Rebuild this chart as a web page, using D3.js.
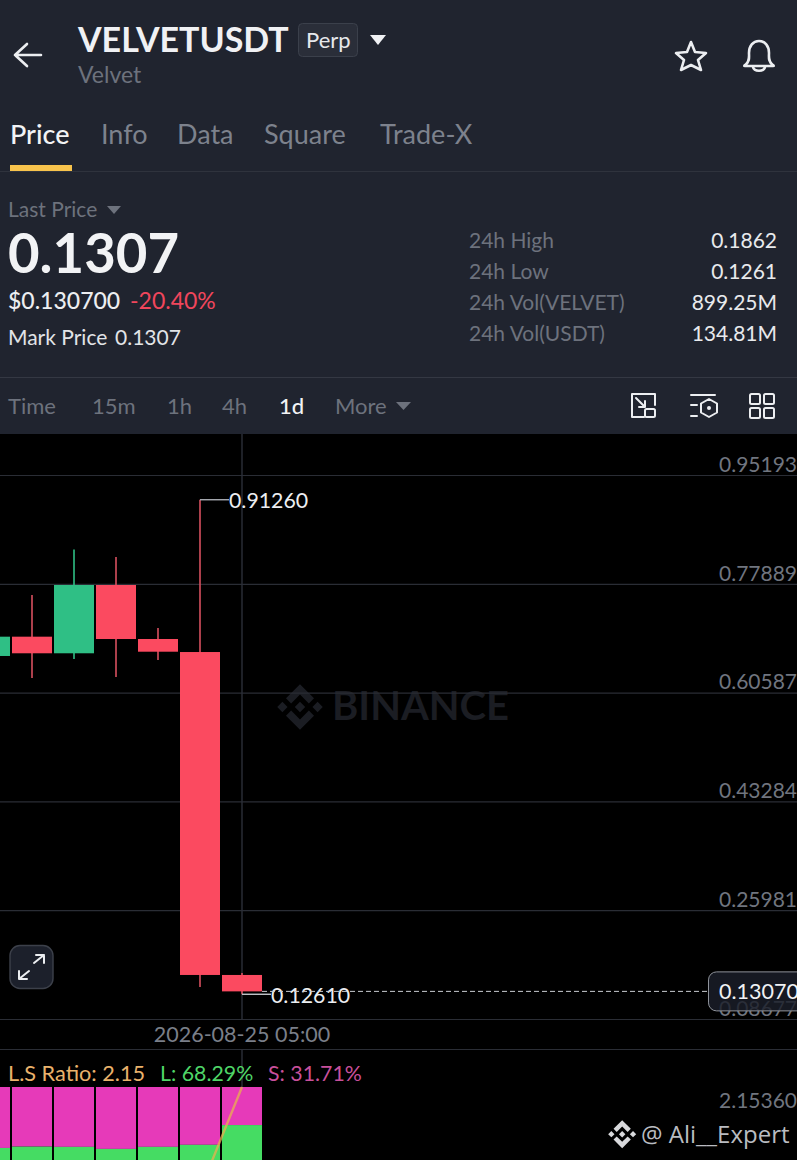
<!DOCTYPE html>
<html>
<head>
<meta charset="utf-8">
<script src="https://cdn.jsdelivr.net/npm/d3@7"></script>
<style>
  html, body { margin: 0; padding: 0; background: #000; overflow: hidden; }
  svg { display: block; font-family: Lato, sans-serif; }
</style>
</head>
<body>
<div id="chart"></div>
<script>
// values
const dates = ["08-19", "08-20", "08-21", "08-22", "08-23", "08-24", "08-25"];
const opens = [0.6641, 0.6948, 0.6684, 0.7770, 0.6911, 0.6704, 0.1568];
const closes = [0.6948, 0.6684, 0.7770, 0.6911, 0.6709, 0.1568, 0.1307];
const highs = [0.6948, 0.7611, 0.8334, 0.8215, 0.7086, 0.9126, 0.1600];
const lows = [0.6641, 0.6291, 0.6593, 0.6307, 0.6577, 0.1377, 0.1261];
const longPct = [49.2, 50.3, 50.1, 48.4, 50.1, 51.8, 68.29];
const lsRatio = [0.97, 1.01, 1.0, 0.94, 1.0, 1.07, 2.15];
const priceTicks = [0.95193, 0.77889, 0.60587, 0.43284, 0.25981, 0.08677];
const lastPrice = 0.1307;
const ratioTick = 2.1536;

const tabs = ["Price", "Info", "Data", "Square", "Trade-X"];
const tabX = [10, 101, 177, 264, 380];
const intervals = ["Time", "15m", "1h", "4h", "1d", "More"];
const intervalX = [8, 92, 167, 222, 279, 335];
const statLabels = ["24h High", "24h Low", "24h Vol(VELVET)", "24h Vol(USDT)"];
const statValues = ["0.1862", "0.1261", "899.25M", "134.81M"];
const statY = [248, 279, 310, 341];

const width = 797, height = 1160;
const panelBg = "#20242f", lineCol = "#2f333d", gridCol = "#2a2d35";
const red = "#fb4a60", green = "#2fbf85", grey = "#7b808b", dim = "#6d727d";

const svg = d3.select("#chart").append("svg").attr("width", width).attr("height", height);

function label(g, x, y, str, size, fill, opts) {
  opts = opts || {};
  return g.append("text").attr("x", x).attr("y", y).text(str)
    .attr("font-size", size).attr("fill", fill)
    .attr("font-weight", opts.weight || 400)
    .attr("text-anchor", opts.anchor || "start")
    .attr("font-family", opts.family || null);
}
function icon(g, d, sw, fill) {
  return g.append("path").attr("d", d).attr("fill", fill || "none")
    .attr("stroke", "#eceef1").attr("stroke-width", sw)
    .attr("stroke-linecap", "round").attr("stroke-linejoin", "round");
}
const logoPath = "M38.7 53.2L63 28.9l24.3 24.3 14.1-14.1L63 .7 24.6 39.1zM.7 63l14.1-14.1L28.9 63 14.8 77.1zM38.7 72.8L63 97.1l24.3-24.3 14.1 14.1L63 125.3 24.6 86.9zM97.1 63l14.1-14.1L125.3 63l-14.1 14.1zM77.3 63L63 48.7 48.7 63 63 77.3z";

// header panel
const head = svg.append("g");
head.append("rect").attr("width", width).attr("height", 434).attr("fill", panelBg);
icon(head, "M15 55H41M27 44L15 55L27 66", 2.6);
label(head, 78, 52, "VELVETUSDT", 34, "#f0f1f4", { weight: 700 });
head.append("rect").attr("x", 298.5).attr("y", 23.5).attr("width", 59).attr("height", 33).attr("rx", 4)
  .attr("fill", "#2a2e39").attr("stroke", "#3b404b");
label(head, 306, 48, "Perp", 22, "#e6e8ec");
head.append("path").attr("d", "M370 35H386L378 45Z").attr("fill", "#f0f1f4");
label(head, 78, 83, "Velvet", 23, dim);
icon(head, "M691 42L695 52L706 53L698 60L701 70L691 65L681 70L684 60L676 53L687 52Z", 2.6);
icon(head, "M745 65C750 62 749 57 749 53C749 46 753 41 759 41C765 41 769 46 769 53C769 57 768 62 773 65C774 66 774 66 773 66H745C744 66 744 66 745 65ZM753 67C754 72 764 72 765 67", 2.6);

tabs.forEach((t, i) => label(head, tabX[i], 144, t, 27, i === 0 ? "#f2f3f5" : "#7d828d", { weight: i === 0 ? 500 : 400 }));
head.append("rect").attr("x", 10).attr("y", 165).attr("width", 62).attr("height", 6).attr("fill", "#f7c34c");
head.append("line").attr("x1", 0).attr("x2", width).attr("y1", 171.5).attr("y2", 171.5).attr("stroke", lineCol);

label(head, 8, 217, "Last Price", 21, dim);
head.append("path").attr("d", "M107 206H121L114 214Z").attr("fill", dim);
label(head, 8, 273, "0.1307", 54.5, "#f2f3f5", { weight: 700 });
label(head, 8, 309, "$0.130700", 23, "#eceef1", { weight: 500 });
label(head, 130, 309, "-20.40%", 23, "#f0465c");
label(head, 8, 345, "Mark Price", 21, "#e2e4e8");
label(head, 115, 345, "0.1307", 21, "#e2e4e8");
statLabels.forEach((t, i) => {
  label(head, 469, statY[i], t, 21, dim);
  label(head, 777, statY[i], statValues[i], 21, "#e8eaed", { anchor: "end" });
});
head.append("line").attr("x1", 0).attr("x2", width).attr("y1", 377.5).attr("y2", 377.5).attr("stroke", "#343843");

intervals.forEach((t, i) => label(head, intervalX[i], 414, t, 22, i === 4 ? "#f2f3f5" : dim, { weight: i === 4 ? 500 : 400 }));
head.append("path").attr("d", "M396 402H411L403.5 410Z").attr("fill", dim);
icon(head, "M646 394H632V417H644M655 405V394H646M636 398L645 407M639 407H645V401", 2);
head.append("rect").attr("x", 645).attr("y", 409).attr("width", 10).attr("height", 8).attr("rx", 1.5)
  .attr("fill", "none").attr("stroke", "#eceef1").attr("stroke-width", 2);
icon(head, "M691 395H715M691 405H697M691 416H697M709 399L717 403.5V412.5L709 417L701 412.5V403.5Z", 2);
head.append("circle").attr("cx", 709).attr("cy", 408).attr("r", 2).attr("fill", "#eceef1");
[[750, 394], [764, 394], [750, 408], [764, 408]].forEach(p => {
  head.append("rect").attr("x", p[0]).attr("y", p[1]).attr("width", 10).attr("height", 10).attr("rx", 1.5)
    .attr("fill", "none").attr("stroke", "#eceef1").attr("stroke-width", 2);
});

// chart scales
const x = d3.scaleBand().domain(dates).range([-31, 263]).paddingInner(2 / 42).paddingOuter(1 / 42);
const y = d3.scaleLinear().domain([priceTicks[5], priceTicks[0]]).range([1019, 475]);
const yLong = d3.scaleLinear().domain([0, 100]).range([1207, 1087]);
const yRatio = d3.scaleLinear().domain([1.075, 2.15]).range([1190, 1087]);
const cx = d => x(d) + x.bandwidth() / 2;

const chart = svg.append("g");
chart.append("rect").attr("y", 434).attr("width", width).attr("height", height - 434).attr("fill", "#000");

// watermark sits under the grid
chart.append("path").attr("d", logoPath)
  .attr("transform", "translate(277,684) scale(0.365)").attr("fill", "#1b1d23");
label(chart, 332, 720, "BINANCE", 40, "#1b1d23", { weight: 700 });

// grid
const grid = chart.append("g").attr("transform", "translate(0,0)")
  .call(d3.axisRight(y).tickValues(priceTicks).tickSize(width).tickFormat(""));
grid.select(".domain").remove();
grid.selectAll("line").attr("stroke", gridCol).attr("stroke-width", 1.2);
chart.append("line").attr("x1", 0).attr("x2", width).attr("y1", 1049.5).attr("y2", 1049.5)
  .attr("stroke", gridCol).attr("stroke-width", 1.2);

// crosshair
const lastDate = dates[dates.length - 1];
chart.append("line").attr("x1", cx(lastDate)).attr("x2", cx(lastDate)).attr("y1", 434).attr("y2", y(priceTicks[5]))
  .attr("stroke", "#2c2f38").attr("stroke-width", 1.4);
chart.append("line").attr("x1", cx(lastDate)).attr("x2", cx(lastDate)).attr("y1", 1049.5).attr("y2", yLong(100))
  .attr("stroke", "#2c2f38").attr("stroke-width", 1.4);

// candles
const candles = dates.map((d, i) => ({ d, o: opens[i], c: closes[i], h: highs[i], l: lows[i] }));
const candle = chart.append("g").selectAll("g").data(candles).join("g");
candle.append("line")
  .attr("x1", d => cx(d.d)).attr("x2", d => cx(d.d))
  .attr("y1", d => y(d.h)).attr("y2", d => y(d.l))
  .attr("stroke", d => d.c >= d.o ? green : "#d8505f").attr("stroke-width", 1.6);
candle.append("rect")
  .attr("x", d => x(d.d)).attr("width", x.bandwidth())
  .attr("y", d => y(Math.max(d.o, d.c)))
  .attr("height", d => y(Math.min(d.o, d.c)) - y(Math.max(d.o, d.c)))
  .attr("fill", d => d.c >= d.o ? green : red);

// high and low callouts
const hi = candles[5], lo = candles[6];
chart.append("line").attr("x1", cx(hi.d)).attr("x2", cx(hi.d) + 29).attr("y1", y(hi.h)).attr("y2", y(hi.h))
  .attr("stroke", "#a9acb3").attr("stroke-width", 1.4);
label(chart, cx(hi.d) + 29, y(hi.h) + 8, d3.format(".5f")(hi.h), 21.3, "#eceef1");
chart.append("line").attr("x1", cx(lo.d)).attr("x2", cx(lo.d) + 29).attr("y1", y(lo.l)).attr("y2", y(lo.l))
  .attr("stroke", "#c5c7cc").attr("stroke-width", 1.4);
label(chart, cx(lo.d) + 29, y(lo.l) + 9, d3.format(".5f")(lo.l), 21.3, "#eceef1");

// last price line and tag
chart.append("line").attr("x1", x(lastDate) + x.bandwidth()).attr("x2", 708).attr("y1", y(lastPrice)).attr("y2", y(lastPrice))
  .attr("stroke", "#c9ccd1").attr("stroke-width", 1).attr("stroke-dasharray", "5 3");

// price axis labels
const axis = chart.append("g")
  .call(d3.axisRight(y).tickValues(priceTicks).tickSize(0).tickFormat(d3.format(".5f")));
axis.select(".domain").remove();
axis.selectAll("text").attr("x", 719).attr("dy", "-0.18em").attr("text-anchor", "start")
  .attr("fill", "#70757f").attr("font-size", 21).attr("font-family", "Lato, sans-serif");

chart.append("rect").attr("x", 708.5).attr("y", y(lastPrice) - 19.5).attr("width", 110).attr("height", 39).attr("rx", 8)
  .attr("fill", "#1b1f2a").attr("fill-opacity", 0.82).attr("stroke", "#8f939b");
label(chart, 719, y(lastPrice) + 8, d3.format(".5f")(lastPrice), 21.5, "#f0f1f4");

// expand button
chart.append("rect").attr("x", 10).attr("y", 945.5).attr("width", 43).attr("height", 43).attr("rx", 10)
  .attr("fill", "#1c202b").attr("stroke", "#3c404a").attr("stroke-width", 1.4);
icon(chart, "M34 963L44 955M36 955H44V963M29 971L19 979M19 971V979H27", 2);

// time label
label(chart, cx(lastDate), 1042, "2026-08-25 05:00", 21.5, "#7a7f89", { anchor: "middle" });

// long short pane
label(chart, 8, 1081, "L.S Ratio: 2.15", 21.7, "#e9b26c");
label(chart, 160, 1081, "L: 68.29%", 21.3, "#4fd568");
label(chart, 268, 1081, "S: 31.71%", 21.3, "#c9509b");

const pane = chart.append("g");
pane.selectAll("rect.short").data(dates).join("rect").attr("class", "short")
  .attr("x", d => x(d)).attr("width", x.bandwidth())
  .attr("y", yLong(100)).attr("height", (d, i) => yLong(longPct[i]) - yLong(100))
  .attr("fill", "#e63ab9");
pane.selectAll("rect.long").data(dates).join("rect").attr("class", "long")
  .attr("x", d => x(d)).attr("width", x.bandwidth())
  .attr("y", (d, i) => yLong(longPct[i])).attr("height", (d, i) => yLong(0) - yLong(longPct[i]))
  .attr("fill", "#45dc63");
const ratioLine = d3.line().x(d => cx(d.d)).y(d => yRatio(d.r));
pane.append("path").datum(dates.map((d, i) => ({ d, r: lsRatio[i] })))
  .attr("d", ratioLine).attr("fill", "none").attr("stroke", "#e8b04f").attr("stroke-opacity", 0.75).attr("stroke-width", 2.4);

label(chart, 719, 1108, d3.format(".5f")(ratioTick), 21, "#70757f");

// reposted-by mark
chart.append("path").attr("d", logoPath)
  .attr("transform", "translate(608,1120) scale(0.225)").attr("fill", "#d8d9dc");
label(chart, 641, 1143, "@ Ali__Expert", 24, "#b9bcc1", { family: "Open Sans" });
</script>
</body>
</html>
